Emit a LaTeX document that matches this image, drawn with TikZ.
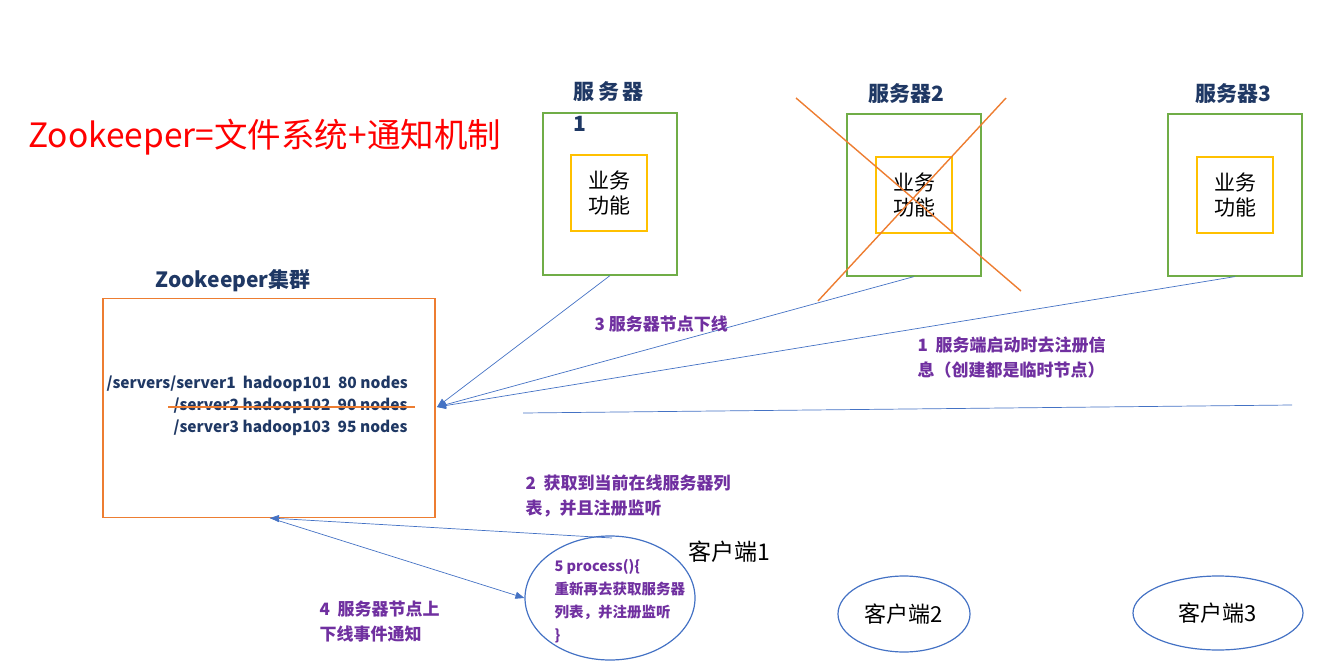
\documentclass[tikz,border=0pt]{standalone}
\usepackage{fontspec}
\setmainfont{Noto Sans CJK SC}
\definecolor{navy}{HTML}{1F3864}
\definecolor{purp}{HTML}{7030A0}
\definecolor{grn}{HTML}{70AD47}
\definecolor{org}{HTML}{ED7D31}
\definecolor{ylw}{HTML}{FFC000}
\definecolor{blu}{HTML}{4472C4}
\usetikzlibrary{shapes.geometric,arrows.meta}
\begin{document}
\begin{tikzpicture}[x=1pt,y=-1pt,
  srv/.style={draw=grn,line width=1.2pt,minimum width=134pt,minimum height=162pt,inner sep=0},
  biz/.style={draw=ylw,line width=1.2pt,minimum width=76pt,minimum height=76pt,align=center,font=\fontsize{21}{25}\selectfont,inner sep=0},
  slab/.style={text=navy,font=\bfseries\fontsize{21}{22}\selectfont},
  plab/.style={text=purp,font=\bfseries\fontsize{17}{25}\selectfont,align=left,anchor=north west},
  cli/.style={draw=blu,ellipse,line width=1.2pt,minimum width=132pt,minimum height=76pt,font=\fontsize{22}{24}\selectfont},
  con/.style={blu,line width=0.7pt},
  tip/.style={-{Triangle[length=9pt,width=7pt]}}]
\useasboundingbox (0,0) rectangle (1324,671);
\node[text=red,font=\fontsize{33.5}{36}\selectfont,anchor=west] (title) at (25,137) {Zookeeper=文件系统+通知机制};
% servers
\node[srv] (s1) at (610,194) {};
\node[biz] (b1) at (609,193) {业务\\功能};
\node[slab,anchor=west] (l1) at (570,92) {服\,务\,器};
\node[slab,anchor=west] (l1b) at (570,124) {1};
\node[srv] (s2) at (914,195) {};
\node[biz] (b2) at (914,195) {业务\\功能};
\node[slab] (l2) at (906,94) {服务器2};
\node[srv] (s3) at (1235,195) {};
\node[biz] (b3) at (1235,195) {业务\\功能};
\node[slab] (l3) at (1233,94) {服务器3};
\coordinate (x1) at (796,98); \coordinate (x2) at (1021,291);
\coordinate (x3) at (1006,98); \coordinate (x4) at (818,301);
\draw[org,line width=1.4pt] (x1)--(x2) (x3)--(x4);
% zookeeper
\node[draw=org,line width=1.4pt,minimum width=332pt,minimum height=219pt,inner sep=0] (zk) at (269,408) {};
\node[slab] (zkl) at (233,281) {Zookeeper集群};
\node[text=navy,font=\bfseries\fontsize{15.5}{22}\selectfont,anchor=west] (r1) at (103,384) {/servers/server1\ \ hadoop101\ \ 80 nodes};
\node[text=navy,font=\bfseries\fontsize{15.5}{22}\selectfont,anchor=west] (r2) at (170,406) {/server2 hadoop102\ \ 90 nodes};
\node[text=navy,font=\bfseries\fontsize{15.5}{22}\selectfont,anchor=west] (r3) at (170,428) {/server3 hadoop103\ \ 95 nodes};
\coordinate (st1) at (168,407); \coordinate (st2) at (415,407);
\draw[org,line width=1.4pt] (st1)--(st2);
\coordinate (za) at (437,407);
\draw[con,tip] (s1.south) -- (za);
\draw[con,tip] (s2.south) -- (za);
\draw[con,tip] (s3.south) -- (za);
\coordinate (h1) at (523,413); \coordinate (h2) at (1292,405);
\draw[con] (h1)--(h2);
% clients
\node[cli,minimum width=170pt,minimum height=124pt] (c1) at (610,598) {};
\node[plab,font=\bfseries\fontsize{14.5}{23}\selectfont] (c1t) at (551,556) {5 process()\{\\重新再去获取服务器\\列表，并注册监听\\\}};
\node[font=\fontsize{23}{24}\selectfont,anchor=west] (c1l) at (685,552) {客户端1};
\node[cli] (c2) at (904,614) {客户端2};
\node[cli,minimum width=170pt,minimum height=74pt] (c3) at (1218,613) {客户端3};
\coordinate (zb) at (270,518);
\coordinate (c1a) at (612,538);
\draw[con,tip] (c1a) -- (zb);
\draw[con,tip] (zb) -- (c1.west);
% labels
\node[plab] (p3) at (591,312) {3 服务器节点下线};
\node[plab] (p1) at (914,333) {1\ \ 服务端启动时去注册信\\息（创建都是临时节点）};
\node[plab] (p2) at (522,471) {2\ \ 获取到当前在线服务器列\\表，并且注册监听};
\node[plab] (p4) at (316,597) {4\ \ 服务器节点上\\下线事件通知};
\end{tikzpicture}
\end{document}
